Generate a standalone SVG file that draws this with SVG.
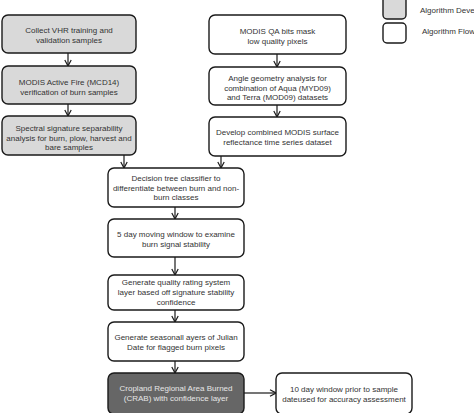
<svg xmlns="http://www.w3.org/2000/svg" width="474" height="413" viewBox="0 0 474 413">
<defs>
<style>
.box{stroke:#1a1a1a;stroke-width:1.4}
.dev{fill:#d9d9d9}
.flow{fill:#ffffff}
.out{fill:#666666}
text{font-family:"Liberation Sans",Arial,sans-serif;font-size:8px;fill:#333333;text-anchor:middle}
.lt{fill:#e6e6e6}
.leg{text-anchor:start;font-size:8px}
.conn{stroke:#1a1a1a;stroke-width:1.2;fill:none}
</style>
<marker id="arr" viewBox="0 0 8 8" refX="7" refY="4" markerWidth="8" markerHeight="8" markerUnits="userSpaceOnUse" orient="auto">
<path d="M1,0.8 L7,4 L1,7.2" fill="none" stroke="#1a1a1a" stroke-width="1.2"/>
</marker>
</defs>
<rect width="474" height="413" fill="#ffffff"/>

<g id="legend">
<rect class="box dev" x="383" y="-4" width="23" height="23" rx="4"/>
<rect class="box flow" x="383" y="23" width="23" height="20" rx="4"/>
<text class="leg" x="420" y="13">Algorithm Deve</text>
<text class="leg" x="422" y="34">Algorithm Flow</text>
</g>

<g id="connectors">
<line class="conn" x1="68" y1="53" x2="68" y2="66" marker-end="url(#arr)"/>
<line class="conn" x1="68" y1="104" x2="68" y2="116" marker-end="url(#arr)"/>
<line class="conn" x1="277" y1="54" x2="277" y2="67" marker-end="url(#arr)"/>
<line class="conn" x1="277" y1="105" x2="277" y2="117" marker-end="url(#arr)"/>
<line class="conn" x1="124" y1="155" x2="124" y2="168" marker-end="url(#arr)"/>
<line class="conn" x1="221" y1="156" x2="221" y2="168" marker-end="url(#arr)"/>
<line class="conn" x1="175" y1="207" x2="175" y2="219" marker-end="url(#arr)"/>
<line class="conn" x1="175" y1="257" x2="175" y2="275" marker-end="url(#arr)"/>
<line class="conn" x1="175" y1="310" x2="175" y2="322" marker-end="url(#arr)"/>
<line class="conn" x1="175" y1="361" x2="175" y2="373" marker-end="url(#arr)"/>
<line class="conn" x1="244" y1="393" x2="276" y2="393" marker-end="url(#arr)"/>
</g>

<g id="n-collect">
<rect class="box dev" x="2" y="15" width="134" height="38" rx="6"/>
<text x="69" y="33">Collect VHR training and</text>
<text x="69" y="43">validation samples</text>
</g>
<g id="n-activefire">
<rect class="box dev" x="2" y="66" width="134" height="38" rx="6"/>
<text x="69" y="85">MODIS Active Fire (MCD14)</text>
<text x="69" y="94.5">verification of burn samples</text>
</g>
<g id="n-spectral">
<rect class="box dev" x="2" y="116" width="134" height="39" rx="6"/>
<text x="69" y="131">Spectral signature separability</text>
<text x="69" y="141">analysis for burn, plow, harvest and</text>
<text x="69" y="150">bare samples</text>
</g>

<g id="n-qa">
<rect class="box flow" x="209" y="15" width="137" height="39" rx="6"/>
<text x="277.5" y="34">MODIS QA bits mask</text>
<text x="277.5" y="44">low quality pixels</text>
</g>
<g id="n-angle">
<rect class="box flow" x="209" y="67" width="137" height="38" rx="6"/>
<text x="277.5" y="81">Angle geometry analysis for</text>
<text x="277.5" y="91">combination of Aqua (MYD09)</text>
<text x="277.5" y="100">and Terra (MOD09) datasets</text>
</g>
<g id="n-develop">
<rect class="box flow" x="209" y="117" width="137" height="39" rx="6"/>
<text x="277.5" y="135">Develop combined MODIS surface</text>
<text x="277.5" y="144.5">reflectance time series dataset</text>
</g>

<g id="n-decision">
<rect class="box flow" x="108" y="168" width="136" height="39" rx="6"/>
<text x="176" y="181">Decision tree classifier to</text>
<text x="176" y="191">differentiate between burn and non-</text>
<text x="176" y="200">burn classes</text>
</g>
<g id="n-window">
<rect class="box flow" x="108" y="219" width="136" height="38" rx="6"/>
<text x="176" y="237">5 day moving window to examine</text>
<text x="176" y="247">burn signal stability</text>
</g>
<g id="n-quality">
<rect class="box flow" x="108" y="275" width="136" height="35" rx="6"/>
<text x="176" y="285">Generate quality rating system</text>
<text x="176" y="295">layer based off signature stability</text>
<text x="176" y="304.5">confidence</text>
</g>
<g id="n-seasonal">
<rect class="box flow" x="108" y="322" width="136" height="39" rx="6"/>
<text x="176" y="340">Generate seasonall ayers of Julian</text>
<text x="176" y="350">Date for flagged burn pixels</text>
</g>
<g id="n-crab">
<rect class="box out" x="108" y="373" width="136" height="41" rx="6"/>
<text class="lt" x="176" y="391">Cropland Regional Area Burned</text>
<text class="lt" x="176" y="401">(CRAB) with confidence layer</text>
</g>
<g id="n-tenday">
<rect class="box flow" x="276" y="373" width="136" height="41" rx="6"/>
<text x="344" y="392">10 day window prior to sample</text>
<text x="344" y="402">dateused for accuracy assessment</text>
</g>
</svg>
